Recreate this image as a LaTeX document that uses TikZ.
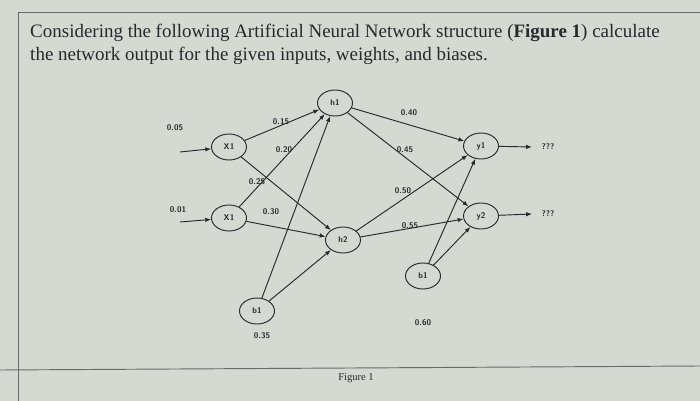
\documentclass[tikz,border=0pt]{standalone}
\usepackage{fontspec}
\setmainfont{Liberation Serif}
\usetikzlibrary{shapes.geometric,arrows.meta}
\definecolor{paper}{RGB}{214,216,210}
\definecolor{ink}{RGB}{40,40,45}
\begin{document}
\begin{tikzpicture}[x=0.03cm,y=-0.03cm,
  neuron/.style={ellipse,draw=ink,thick,minimum width=1.05cm,minimum height=0.78cm,inner sep=0pt,font=\sffamily\bfseries\scriptsize,text=ink},
  conn/.style={draw=ink,thick,-{Latex[length=5pt]}},
  wt/.style={font=\sffamily\bfseries\scriptsize,text=ink,inner sep=1pt}]
\fill[paper] (0,0) rectangle (700,401);
\useasboundingbox (0,0) rectangle (700,401);
\draw[ink!70,thick] (18,401) -- (18,12) -- (700,12);
\draw[ink!70,thick] (0,370) -- (700,366);
\node[anchor=west,font=\fontsize{16.2}{19}\selectfont,text=ink,inner sep=0pt] (t1) at (30,33) {Considering the following Artificial Neural Network structure (\textbf{Figure 1}) calculate};
\node[anchor=west,font=\fontsize{16.2}{19}\selectfont,text=ink,inner sep=0pt] (t2) at (30,56) {the network output for the given inputs, weights, and biases.};
\node[neuron] (x1) at (229,147) {X1};
\node[neuron] (x2) at (229,218) {X1};
\node[neuron] (h1) at (335,103) {h1};
\node[neuron] (h2) at (343,240) {h2};
\node[neuron] (b1) at (257,311) {b1};
\node[neuron] (y1) at (481,146) {y1};
\node[neuron] (y2) at (481,216) {y2};
\node[neuron] (b2) at (423,276) {b1};
\coordinate (i1) at (180,152);
\coordinate (i2) at (180,222);
\coordinate (o1) at (532,147);
\coordinate (o2) at (532,214);
\draw[conn] (i1) -- (x1);
\draw[conn] (i2) -- (x2);
\draw[conn] (y1) -- (o1);
\draw[conn] (y2) -- (o2);
\foreach \a in {x1,x2,b1}{\draw[conn] (\a) -- (h1); \draw[conn] (\a) -- (h2);}
\foreach \a in {h1,h2,b2}{\draw[conn] (\a) -- (y1); \draw[conn] (\a) -- (y2);}
\node[wt] (in1) at (175,128) {0.05};
\node[wt] (in2) at (178,210) {0.01};
\node[wt] (q1) at (548,147) {???};
\node[wt] (q2) at (548,214) {???};
\node[wt] (w1) at (281,122) {0.15};
\node[wt] (w2) at (284,150) {0.20};
\node[wt] (w3) at (257,182) {0.25};
\node[wt] (w4) at (271,212) {0.30};
\node[wt] (w5) at (409,113) {0.40};
\node[wt] (w6) at (405,150) {0.45};
\node[wt] (w7) at (403,191) {0.50};
\node[wt] (w8) at (410,226) {0.55};
\node[wt] (w9) at (423,323) {0.60};
\node[wt] (w10) at (262,336) {0.35};
\node[font=\small,text=ink] (fig) at (356,378) {Figure 1};
\end{tikzpicture}
\end{document}
